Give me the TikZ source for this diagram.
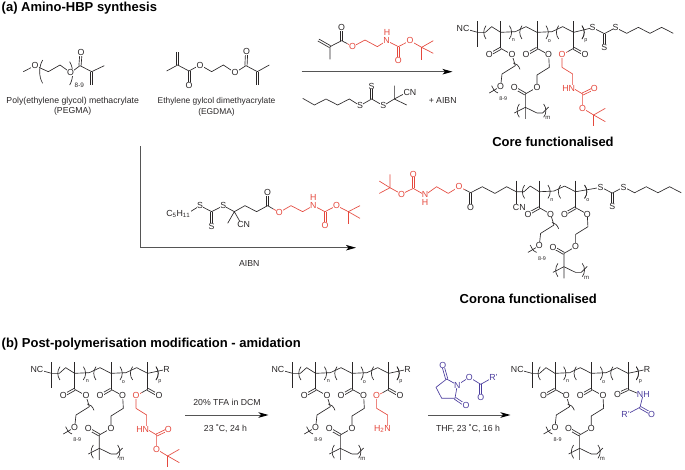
\documentclass[tikz,border=0pt]{standalone}
\usepackage{fontspec}
\setmainfont{Liberation Sans}
\usetikzlibrary{arrows.meta,calc}
\definecolor{ink}{HTML}{2A2728}
\definecolor{chemred}{HTML}{E5483D}
\definecolor{chemblue}{HTML}{4B3D9E}
\definecolor{arrowgrey}{HTML}{555555}
\tikzset{
  bond/.style={draw=ink,line width=.65pt,line join=round},
  atom/.style={font=\fontsize{8.8}{9}\selectfont,text=ink,fill=white,inner sep=.2pt,outer sep=0pt},
  tiny/.style={font=\fontsize{5.4}{6}\selectfont,text=ink,inner sep=0pt},
  rbond/.style={bond,draw=chemred},
  ratom/.style={atom,text=chemred},
  bbond/.style={bond,draw=chemblue},
  batom/.style={atom,text=chemblue},
  note/.style={font=\fontsize{8.7}{10.4}\selectfont,text=ink,inner sep=0pt,align=center},
  head/.style={font=\fontsize{13}{15}\selectfont\bfseries,text=black,inner sep=0pt,anchor=west},
  caption/.style={font=\fontsize{13}{15}\selectfont\bfseries,text=black,inner sep=0pt},
  reaction/.style={draw=arrowgrey,line width=.9pt,-{Stealth[length=10pt,width=5.5pt,inset=2.5pt,color=black]}},
  zu/.style={x=.3333pt,y=-.3333pt},
}
% double bond: two parallel strokes
\newcommand{\dbl}[3][ink]{%
  \coordinate (da) at (#2); \coordinate (db) at (#3);
  \draw[bond,draw=#1] ($(da)!1.1pt!90:(db)$) -- ($(db)!1.1pt!-90:(da)$);
  \draw[bond,draw=#1] ($(da)!1.1pt!-90:(db)$) -- ($(db)!1.1pt!90:(da)$);
}
% left-opening and right-opening polymer brackets, in zoom units
\newcommand{\lbrk}[2]{\draw[bond] (#1+5,#2-20) .. controls (#1-4,#2-8) and (#1-4,#2+8) .. (#1+5,#2+20);}
\newcommand{\rbrk}[2]{\draw[bond] (#1-5,#2-20) .. controls (#1+4,#2-8) and (#1+4,#2+8) .. (#1-5,#2+20);}
% NC cap
\newcommand{\capNC}{
  \draw[bond] (111,118) -- (155,130);
  \draw[bond] (155,97) -- (155,175);
  \draw[bond] (155,130) -- (178,130) -- (197,113) -- (224,130);
  \lbrk{175}{130}
  \node[atom] at (111,118) {NC};
}
% PEG unit (n)
\newcommand{\pegunit}{
  \draw[bond] (224,97) -- (224,178);
  \draw[bond] (224,130) -- (268,128);
  \rbrk{255}{130}
  \node[tiny] at (262,154) {n};
  \draw[bond] (224,178) -- (258,197) -- (268,230) -- (228,255) -- (224,292) -- (190,312);
  \dbl{224,178}{190,197}
  \draw[bond] (262,222) .. controls (272,224) and (278,230) .. (282,241);
  \draw[bond] (197,290) .. controls (200,300) and (206,308) .. (216,312);
  \node[atom] at (190,197) {O};
  \node[atom] at (258,197) {O};
  \node[atom] at (224,292) {O};
  \node[tiny] at (232,330) {8-9};
}
% crosslinker unit (o)
\newcommand{\xlinkunit}{
  \draw[bond] (268,128) -- (300,113) -- (333,130);
  \lbrk{283}{130}
  \draw[bond] (333,97) -- (333,178);
  \rbrk{365}{130}
  \node[tiny] at (370,155) {o};
  \draw[bond] (333,178) -- (368,197) -- (370,235) -- (333,258) -- (333,295) -- (298,315) -- (298,390);
  \dbl{333,178}{300,197}
  \dbl{298,315}{265,296}
  \draw[bond] (265,372) -- (298,355) -- (333,372) -- (350,372) -- (368,354);
  \lbrk{275}{365}
  \rbrk{358}{365}
  \node[tiny,font=\fontsize{6}{7}\selectfont] at (366,387) {m};
  \node[atom] at (300,197) {O};
  \node[atom] at (368,197) {O};
  \node[atom] at (333,295) {O};
  \node[atom] at (265,296) {O};
}
% third unit backbone (p)
\newcommand{\thirdchain}{
  \draw[bond] (333,130) -- (378,128) -- (410,113) -- (443,130);
  \lbrk{393}{130}
  \draw[bond] (443,97) -- (443,178);
  \rbrk{473}{130}
  \node[tiny] at (480,155) {p};
}
\newcommand{\capR}{
  \draw[bond] (443,130) -- (490,120);
  \rbrk{473}{130}
  \node[atom] at (500,118) {R};
}
\newcommand{\thirdboc}{
  \dbl{443,178}{477,197}
  \node[atom] at (477,197) {O};
  \draw[bond] (443,178) -- (425,188);
  \draw[rbond] (425,188) -- (408,197) -- (408,235) -- (440,255) -- (440,290);
  \draw[rbond] (440,297) -- (470,315) -- (470,358) -- (503,378) -- (538,358);
  \draw[rbond] (503,378) -- (538,398);
  \draw[rbond] (503,378) -- (503,412);
  \dbl[chemred]{470,315}{505,298}
  \node[ratom] at (428,297) {HN};
  \node[ratom] at (505,298) {O};
  \node[ratom] at (470,358) {O};
  \node[ratom] at (408,197) {O};
}
\newcommand{\thirdamine}{
  \dbl{443,178}{477,197}
  \node[atom] at (477,197) {O};
  \draw[bond] (443,178) -- (425,188);
  \draw[rbond] (425,188) -- (407,197) -- (407,235) -- (440,255) -- (440,290);
  \node[ratom] at (407,197) {O};
  \node[ratom] at (424,298) {H$_{\mathrm{2}}$N};
}
\newcommand{\thirdamide}{
  \dbl{443,178}{412,192}
  \node[atom] at (412,192) {O};
  \draw[bond] (443,178) -- (472,190);
  \draw[bbond] (472,190) -- (489,192) -- (479,232) -- (445,250);
  \dbl[chemblue]{479,232}{514,252}
  \node[batom] at (489,192) {NH};
  \node[batom] at (514,252) {O};
  \node[batom] at (436,252) {R'};
}
% trithiocarbonate end, x-shift in zoom units
\newcommand{\trithio}{
  \draw[bond] (0,116) -- (35,134) -- (69,116) -- (102,133) -- (137,115) -- (172,133) -- (207,115) -- (242,133);
  \dbl{35,134}{35,174}
  \node[atom] at (0,116) {S};
  \node[atom] at (69,116) {S};
  \node[atom] at (35,174) {S};
}
\begin{document}
\begin{tikzpicture}[x=1pt,y=-1pt]
\useasboundingbox (0,0) rectangle (685,469);
\fill[white] (0,0) rectangle (685,469);

\node[head] (titleA) at (1.5,8) {(a) Amino-HBP synthesis};
\node[head] (titleB) at (1.5,344) {(b) Post-polymerisation modification - amidation};

% PEGMA and EGDMA
\begin{scope}[zu]
  \draw[bond] (70,215) -- (105,197) -- (145,215) -- (180,195) -- (212,218) -- (240,197) -- (275,215) -- (313,197);
  \dbl{240,197}{243,157}
  \dbl{275,215}{275,256}
  \draw[bond] (128,180) .. controls (116,200) and (116,230) .. (128,250);
  \draw[bond] (209,185) .. controls (221,205) and (221,235) .. (209,255);
  \node[atom] at (105,197) {O};
  \node[atom] at (212,218) {O};
  \node[atom] at (243,157) {O};
  \node[tiny,font=\fontsize{6.4}{7}\selectfont,fill=white] at (238,256) {8-9};

  \draw[bond] (500,213) -- (533,195) -- (567,213) -- (600,195) -- (635,215) -- (670,195) -- (705,218) -- (738,197) -- (772,215) -- (808,195);
  \dbl{533,195}{533,155}
  \dbl{567,213}{567,257}
  \dbl{738,197}{740,155}
  \dbl{772,215}{772,255}
  \node[atom] at (600,195) {O};
  \node[atom] at (705,218) {O};
  \node[atom] at (567,257) {O};
  \node[atom] at (740,155) {O};
\end{scope}
\node[note] (lblPEG) at (72.7,106) {Poly(ethylene glycol) methacrylate\\(PEGMA)};
\node[note,font=\fontsize{8.4}{10.4}\selectfont] (lblEG) at (216.5,107) {Ethylene gylcol dimethyacrylate\\(EGDMA)};

% reagents above / below first arrow
\begin{scope}[shift={(290,0)},zu]
  \dbl{85,120}{120,140}
  \draw[bond] (120,178) -- (120,140) -- (155,122) -- (172,131);
  \dbl{155,122}{155,82}
  \node[atom] at (155,82) {O};
  \draw[rbond] (172,131) -- (188,140) -- (225,120) -- (262,140) -- (290,122) -- (325,140) -- (360,122) -- (395,142) -- (430,122);
  \draw[rbond] (395,142) -- (430,160);
  \draw[rbond] (395,142) -- (395,180);
  \dbl[chemred]{325,140}{325,182}
  \node[ratom] at (188,140) {O};
  \node[ratom] at (290,122) {N};
  \node[ratom] at (291,98) {H};
  \node[ratom] at (325,182) {O};
  \node[ratom] at (360,122) {O};

  \draw[bond] (38,295) -- (73,315) -- (108,297) -- (143,315) -- (178,297) -- (210,317) -- (245,297) -- (280,317) -- (313,297) -- (350,315);
  \draw[bond] (313,257) -- (313,297) -- (345,280);
  \dbl{245,297}{245,258}
  \node[atom] at (210,317) {S};
  \node[atom] at (280,317) {S};
  \node[atom] at (245,258) {S};
  \node[atom] at (360,278) {CN};
  \node[note] (aibnA) at (458,302) {+ AIBN};
\end{scope}

\coordinate (arrAstart) at (301.5,71.7);
\coordinate (arrAend) at (452.5,71.7);
\draw[reaction] (arrAstart) -- (arrAend);

% second route
\coordinate (arrBstart) at (140.7,146);
\coordinate (arrBcorner) at (140.7,247.7);
\coordinate (arrBend) at (356,247.7);
\draw[reaction] (arrBstart) -- (arrBcorner) -- (arrBend);
\node[note] (aibnB) at (249.3,264) {AIBN};

\begin{scope}[shift={(130,140)},zu]
  \draw[bond] (170,222) -- (210,197) -- (245,215) -- (280,197) -- (313,215) -- (345,197) -- (380,215) -- (413,197) -- (430,207);
  \draw[bond] (293,250) -- (313,215) -- (330,245);
  \dbl{245,215}{245,258}
  \dbl{413,197}{413,158}
  \node[atom] at (210,197) {S};
  \node[atom] at (280,197) {S};
  \node[atom] at (245,258) {S};
  \node[atom] at (413,158) {O};
  \node[atom] at (341,253) {CN};
  \node[atom] at (145,221) {C$_{\mathrm{5}}$H$_{\mathrm{11}}$};
  \draw[rbond] (430,207) -- (448,217) -- (483,197) -- (518,215) -- (550,197) -- (585,215) -- (620,197) -- (655,215) -- (690,197);
  \draw[rbond] (655,215) -- (690,235);
  \draw[rbond] (655,215) -- (655,253);
  \dbl[chemred]{585,215}{585,257}
  \node[ratom] at (448,217) {O};
  \node[ratom] at (550,197) {N};
  \node[ratom] at (550,173) {H};
  \node[ratom] at (585,257) {O};
  \node[ratom] at (620,197) {O};
\end{scope}

% Core functionalised
\begin{scope}[shift={(426,-11)},zu]
  \capNC \pegunit \xlinkunit \thirdchain \thirdboc
  \draw[bond] (443,130) -- (500,116);
  \rbrk{473}{130}
  \begin{scope}[shift={(500,0)}] \trithio \end{scope}
\end{scope}
\node[caption] (capCore) at (553,142) {Core functionalised};

% Corona functionalised
\begin{scope}[shift={(464.6,148.4)},zu]
  \draw[bond] (155,97) -- (155,172);
  \draw[bond] (155,130) -- (126,115) -- (91,135) -- (53,115) -- (18,133) -- (1,124);
  \draw[bond] (155,130) -- (178,130) -- (197,113) -- (224,130);
  \lbrk{175}{130}
  \dbl{18,133}{18,177}
  \node[atom] at (18,177) {O};
  \node[atom] at (164,177) {CN};
  \draw[rbond] (1,124) -- (-17,115) -- (-49,135) -- (-84,115) -- (-119,140) -- (-154,120) -- (-189,137) -- (-224,118) -- (-224,78);
  \draw[rbond] (-224,118) -- (-256,98);
  \draw[rbond] (-224,118) -- (-256,135);
  \dbl[chemred]{-154,120}{-154,77}
  \node[ratom] at (-17,115) {O};
  \node[ratom] at (-119,138) {N};
  \node[ratom] at (-119,163) {H};
  \node[ratom] at (-154,77) {O};
  \node[ratom] at (-189,137) {O};
  \pegunit \xlinkunit
  \draw[bond] (333,130) -- (408,117);
  \rbrk{365}{130}
  \begin{scope}[shift={(408,0)}] \trithio \end{scope}
\end{scope}
\node[caption] (capCorona) at (528.3,299.3) {Corona functionalised};

% (b) structures
\begin{scope}[shift={(0,330)},zu]
  \capNC \pegunit \xlinkunit \thirdchain \thirdboc \capR
\end{scope}
\begin{scope}[shift={(241,330)},zu]
  \capNC \pegunit \xlinkunit \thirdchain \thirdamine \capR
\end{scope}
\begin{scope}[shift={(480.3,330)},zu]
  \capNC \pegunit \xlinkunit \thirdchain \thirdamide \capR
\end{scope}

% (b) arrows
\coordinate (arrCstart) at (185,415);
\coordinate (arrCend) at (268.5,415);
\draw[reaction] (arrCstart) -- (arrCend);
\node[note] (tfa) at (227,402.7) {20\% TFA in DCM};
\node[note] (condA) at (225.5,428.7) {23 ˚C, 24 h};

\coordinate (arrDstart) at (428.3,415);
\coordinate (arrDend) at (510.5,415);
\draw[reaction] (arrDstart) -- (arrDend);
\node[note] (condB) at (468,428.5) {THF, 23 ˚C, 16 h};

% NHS ester
\draw[bbond] (446.7,379) -- (436,387.3) -- (441.7,398.3) -- (455,398.3) -- (457.3,385) -- (446.7,379);
\draw[bbond] (457.3,385) -- (469.3,377.3) -- (480.7,384.3) -- (493.3,377.3);
\dbl[chemblue]{446.7,379}{442.7,365}
\dbl[chemblue]{455,398.3}{466,405.7}
\dbl[chemblue]{480.7,384.3}{480.7,397.3}
\node[batom] at (442.7,365) {O};
\node[batom] at (466,405.7) {O};
\node[batom] at (457.3,385) {N};
\node[batom] at (469.3,377.3) {O};
\node[batom] at (480.7,397.3) {O};
\node[batom] at (493.5,377.3) {R'};
\end{tikzpicture}
\end{document}
